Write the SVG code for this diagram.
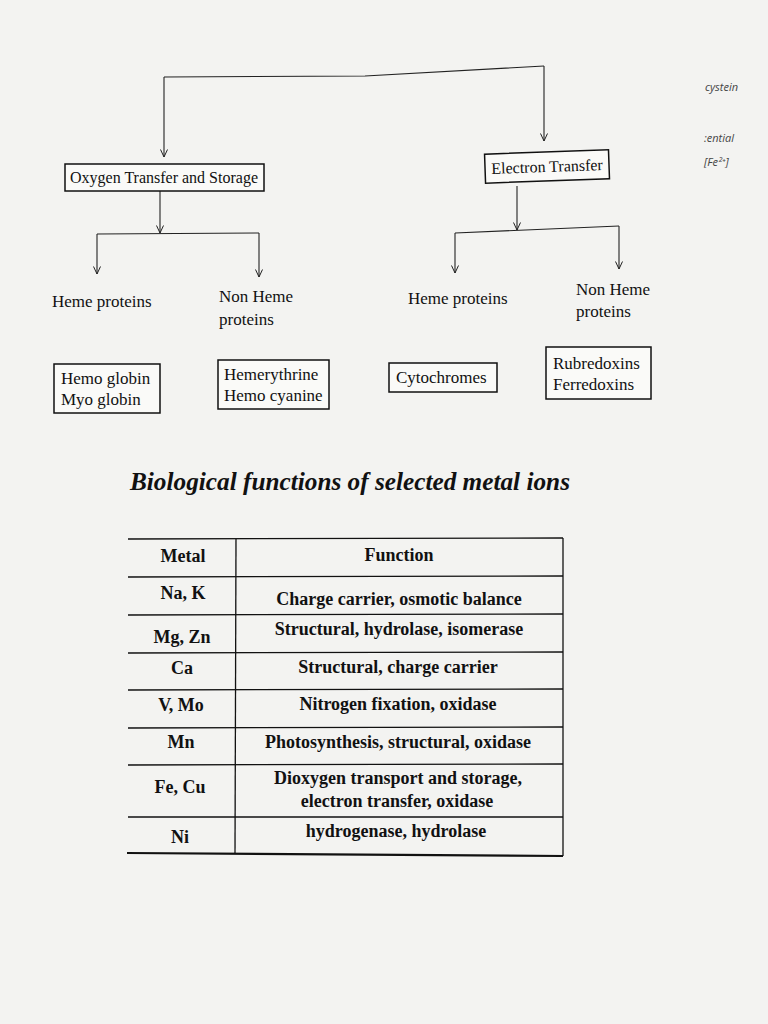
<svg xmlns="http://www.w3.org/2000/svg" width="768" height="1024" viewBox="0 0 768 1024">
<defs>
<marker id="arr" markerWidth="10" markerHeight="10" refX="9.5" refY="5" orient="auto" markerUnits="userSpaceOnUse" viewBox="0 0 10 10">
<path d="M2,1.5 L9.5,5 L2,8.5" fill="none" stroke="#222" stroke-width="1"/>
</marker>
<style>
.bg{fill:#f3f3f1}
.ln{fill:none;stroke:#222;stroke-width:1.1}
.ar{fill:none;stroke:#222;stroke-width:1.1;marker-end:url(#arr)}
.box{fill:#fafaf8;stroke:#111;stroke-width:1.5}
.t{font-family:"Liberation Serif","Times New Roman",serif;font-size:17px;fill:#111}
.th{font-family:"Liberation Serif","Times New Roman",serif;font-size:16px;fill:#111;text-anchor:middle}
.tb{font-family:"Liberation Serif","Times New Roman",serif;font-size:18px;font-weight:bold;fill:#111;text-anchor:middle}
.ttl{font-family:"Liberation Serif","Times New Roman",serif;font-size:26px;font-weight:bold;font-style:italic;fill:#111}
.bleed{font-family:"Open Sans","DejaVu Sans",sans-serif;font-size:11px;font-style:italic;fill:#444}
.tl{fill:none;stroke:#111;stroke-width:1.3}
</style>
</defs>
<rect class="bg" x="0" y="0" width="768" height="1024"/>

<g id="connectors">
<polyline class="ln" points="164,77 365,76 544,66"/>
<line class="ar" x1="164" y1="77" x2="164" y2="157"/>
<line class="ar" x1="544" y1="66" x2="544" y2="141"/>
<line class="ar" x1="160" y1="191" x2="160" y2="233"/>
<line class="ln" x1="97" y1="234" x2="259" y2="233"/>
<line class="ar" x1="97" y1="234" x2="97" y2="274"/>
<line class="ar" x1="259" y1="233" x2="259" y2="277"/>
<line class="ar" x1="517" y1="186" x2="517" y2="230"/>
<line class="ln" x1="455" y1="233" x2="619" y2="226"/>
<line class="ar" x1="455" y1="233" x2="455" y2="273"/>
<line class="ar" x1="619" y1="226" x2="619" y2="269"/>
</g>

<g id="oxygen">
<rect class="box" x="65" y="164" width="199" height="27"/>
<text class="th" x="164" y="183">Oxygen Transfer and Storage</text>
</g>
<g id="electron" transform="rotate(-2 547 166)">
<rect class="box" x="485" y="152" width="124" height="29"/>
<text class="th" x="547" y="172">Electron Transfer</text>
</g>

<g id="heme-left"><text class="t" x="52" y="307">Heme proteins</text></g>
<g id="nonheme-left"><text class="t" x="219" y="302">Non Heme</text><text class="t" x="219" y="325">proteins</text></g>
<g id="heme-right"><text class="t" x="408" y="304">Heme proteins</text></g>
<g id="nonheme-right"><text class="t" x="576" y="295">Non Heme</text><text class="t" x="576" y="317">proteins</text></g>

<g id="hemoglobin">
<rect class="box" x="54" y="364" width="106" height="49"/>
<text class="t" x="61" y="384">Hemo globin</text>
<text class="t" x="61" y="405">Myo globin</text>
</g>
<g id="hemerythrine">
<rect class="box" x="218" y="360" width="111" height="49"/>
<text class="t" x="224" y="380">Hemerythrine</text>
<text class="t" x="224" y="401">Hemo cyanine</text>
</g>
<g id="cytochromes">
<rect class="box" x="389" y="363" width="108" height="29"/>
<text class="t" x="396" y="383">Cytochromes</text>
</g>
<g id="rubredoxins">
<rect class="box" x="546" y="347" width="105" height="52"/>
<text class="t" x="553" y="369">Rubredoxins</text>
<text class="t" x="553" y="390">Ferredoxins</text>
</g>

<text class="ttl" x="130" y="490" textLength="440" lengthAdjust="spacingAndGlyphs">Biological functions of selected metal ions</text>

<g id="table">
<line class="tl" x1="128" y1="539" x2="563" y2="538"/>
<line class="tl" x1="563" y1="538" x2="563" y2="856"/>
<line class="tl" x1="236" y1="539" x2="235" y2="853"/>
<line class="tl" x1="128" y1="577" x2="563" y2="576"/>
<line class="tl" x1="128" y1="615" x2="563" y2="614"/>
<line class="tl" x1="128" y1="653" x2="563" y2="652"/>
<line class="tl" x1="128" y1="690" x2="563" y2="689"/>
<line class="tl" x1="128" y1="728" x2="563" y2="727"/>
<line class="tl" x1="128" y1="765" x2="563" y2="764"/>
<line class="tl" x1="128" y1="817" x2="563" y2="817"/>
<line x1="127" y1="853" x2="563" y2="856" stroke="#111" stroke-width="2.2"/>

<text class="tb" x="183" y="562">Metal</text>
<text class="tb" x="399" y="561">Function</text>
<text class="tb" x="183" y="599">Na, K</text>
<text class="tb" x="399" y="605">Charge carrier, osmotic balance</text>
<text class="tb" x="182" y="643">Mg, Zn</text>
<text class="tb" x="399" y="635">Structural, hydrolase, isomerase</text>
<text class="tb" x="182" y="674">Ca</text>
<text class="tb" x="398" y="673">Structural, charge carrier</text>
<text class="tb" x="181" y="711">V, Mo</text>
<text class="tb" x="398" y="710">Nitrogen fixation, oxidase</text>
<text class="tb" x="181" y="748">Mn</text>
<text class="tb" x="398" y="748">Photosynthesis, structural, oxidase</text>
<text class="tb" x="180" y="793">Fe, Cu</text>
<text class="tb" x="398" y="784">Dioxygen transport and storage,</text>
<text class="tb" x="397" y="807">electron transfer, oxidase</text>
<text class="tb" x="180" y="843">Ni</text>
<text class="tb" x="396" y="837">hydrogenase, hydrolase</text>
</g>

<text class="bleed" x="705" y="91">cystein</text>
<text class="bleed" x="704" y="142">:ential</text>
<text class="bleed" x="704" y="166">[Fe²⁺]</text>
</svg>
